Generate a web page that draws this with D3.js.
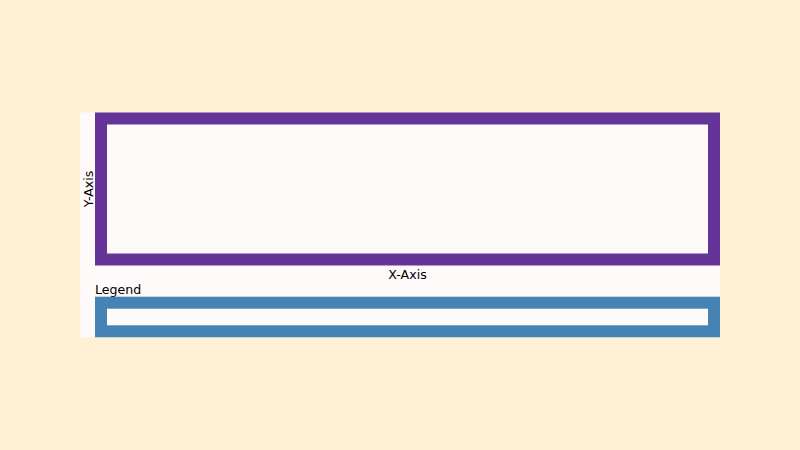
<!DOCTYPE html>
<html>
<head>
<meta charset="utf-8">
<script src="https://cdn.jsdelivr.net/npm/d3@7"></script>
<style>
  html, body { margin: 0; padding: 0; background: #FFEFD5; }
  text { font-family: "DejaVu Sans", sans-serif; font-size: 12.6px; fill: #000; }
</style>
</head>
<body>
<div id="chart"></div>
<script>
// chart has no series, only the frame texts
var xLabel = "X-Axis";
var yLabel = "Y-Axis";
var legendTitle = "Legend";
var seriesValues = [];
var categories = [];

var W = 800, H = 450;

var svg = d3.select("#chart")
  .append("svg")
    .attr("width", W)
    .attr("height", H);

// outer panel
var panel = {x: 80, y: 112.5, w: 640, h: 225};
var plot = {x: 95, y: 112.5, w: 625, h: 153};
var legend = {x: 95, y: 296.7, w: 625, h: 40.6};
var sw = 12;

svg.append("rect")
  .attr("x", panel.x).attr("y", panel.y)
  .attr("width", panel.w).attr("height", panel.h)
  .attr("fill", "#FFFAFA");

var x = d3.scaleBand().domain(categories).range([plot.x + sw, plot.x + plot.w - sw]),
    y = d3.scaleLinear().domain([0, d3.max(seriesValues) || 1]).range([plot.y + plot.h - sw, plot.y + sw]);

svg.append("rect")
  .attr("x", plot.x + sw/2).attr("y", plot.y + sw/2)
  .attr("width", plot.w - sw).attr("height", plot.h - sw)
  .attr("fill", "#FFFAFA")
  .attr("stroke", "#663399")
  .attr("stroke-width", sw);

svg.selectAll(".bar")
  .data(seriesValues)
  .enter().append("rect")
    .attr("class", "bar")
    .attr("x", (d, i) => x(categories[i]))
    .attr("y", d => y(d))
    .attr("width", x.bandwidth())
    .attr("height", d => y(0) - y(d));

svg.append("text")
  .attr("x", plot.x + plot.w/2)
  .attr("y", 278.5)
  .attr("text-anchor", "middle")
  .text(xLabel);

svg.append("text")
  .attr("transform", `translate(92.5,${plot.y + plot.h/2}) rotate(-90)`)
  .attr("text-anchor", "middle")
  .text(yLabel);

svg.append("text")
  .attr("x", legend.x)
  .attr("y", 293.5)
  .text(legendTitle);

svg.append("rect")
  .attr("x", legend.x + sw/2).attr("y", legend.y + sw/2)
  .attr("width", legend.w - sw).attr("height", legend.h - sw)
  .attr("fill", "#FFFAFA")
  .attr("stroke", "#4682B4")
  .attr("stroke-width", sw);
</script>
</body>
</html>
